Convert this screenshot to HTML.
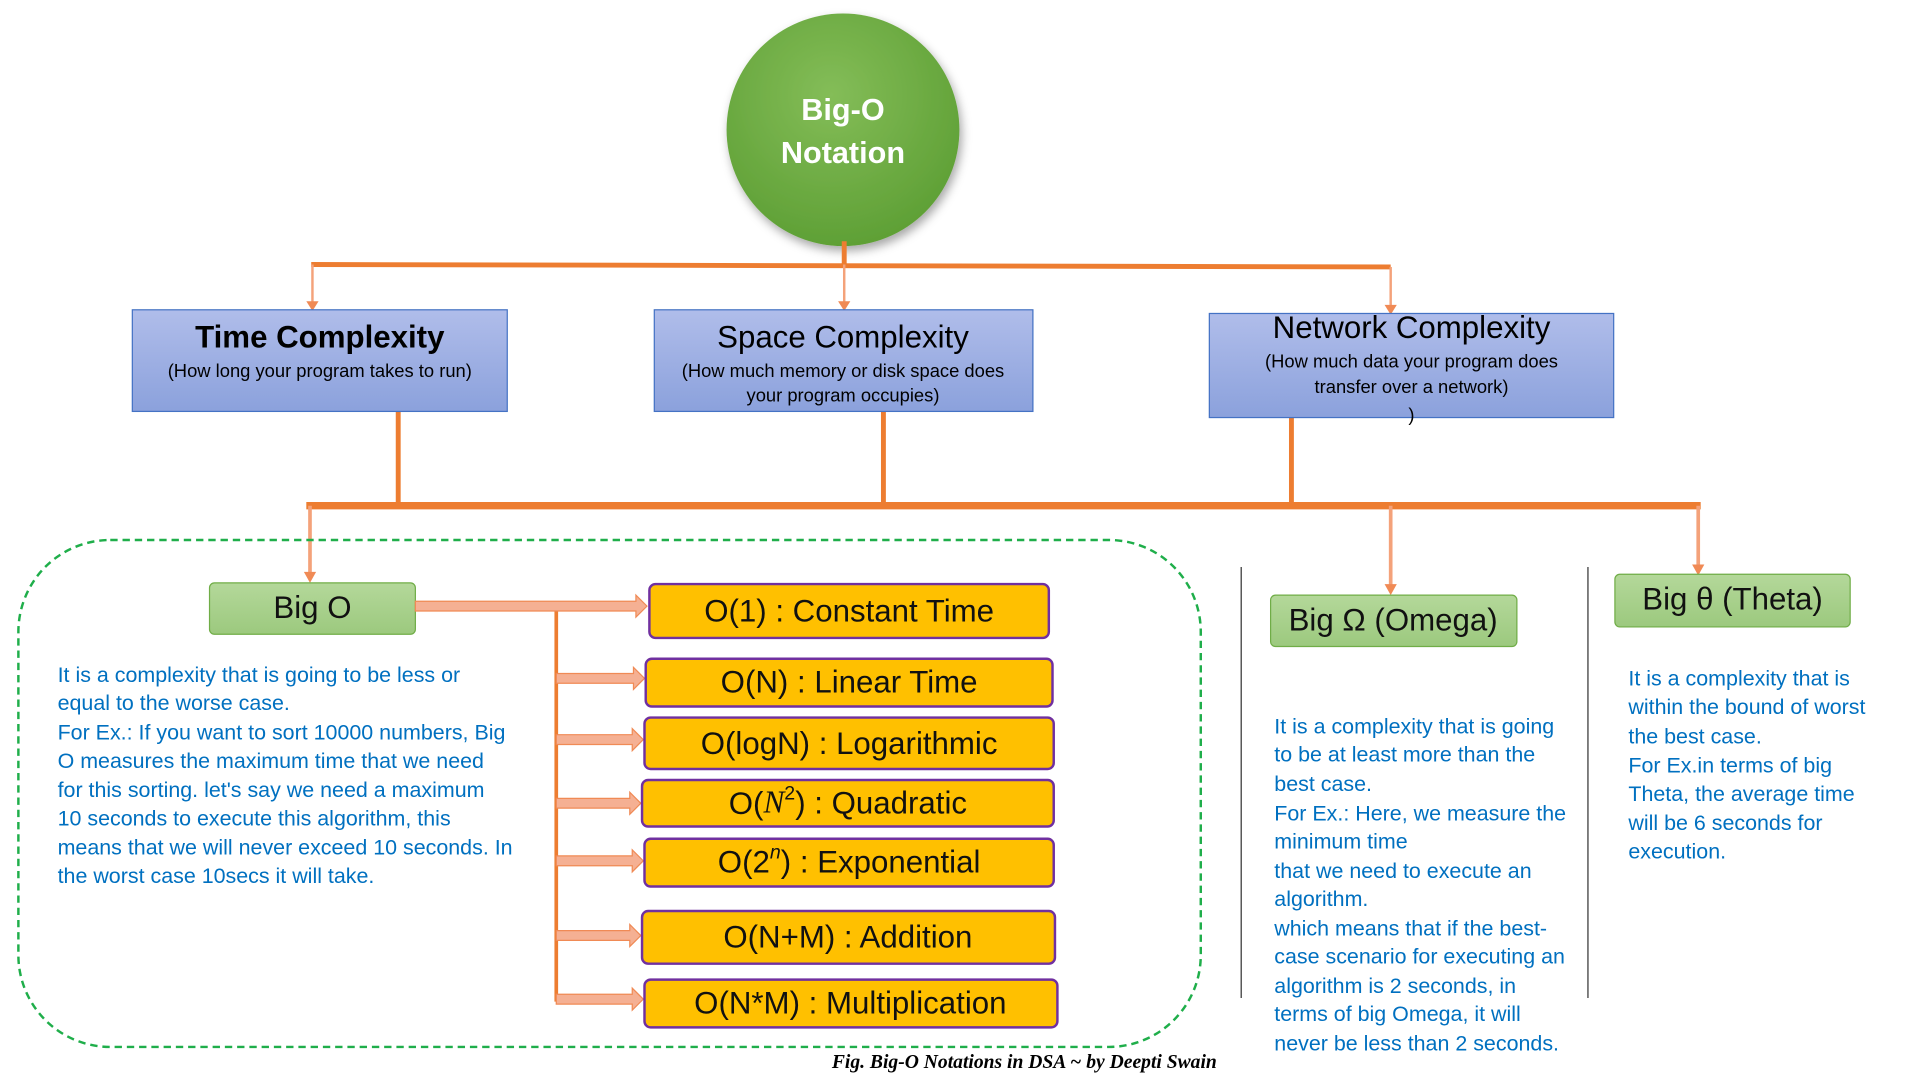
<!DOCTYPE html>
<html><head><meta charset="utf-8"><style>
html,body{margin:0;padding:0;background:#fff;width:1920px;height:1080px;overflow:hidden}
svg{display:block}
text{font-family:"Liberation Sans",sans-serif}
.b{fill:#0070c0;font-size:17.5px}
.y{font-size:25.5px;fill:#111;text-anchor:middle;dominant-baseline:middle}
</style></head><body>
<svg width="1920" height="1080" viewBox="0 0 1567 882" preserveAspectRatio="none" xmlns="http://www.w3.org/2000/svg">
<defs>
<radialGradient id="g" cx="45%" cy="35%" r="70%"><stop offset="0" stop-color="#84bd58"/><stop offset="1" stop-color="#5c9e33"/></radialGradient>
<linearGradient id="bl" x1="0" y1="0" x2="0" y2="1"><stop offset="0" stop-color="#b0bdea"/><stop offset="1" stop-color="#8ba1dc"/></linearGradient>
<linearGradient id="gr" x1="0" y1="0" x2="0" y2="1"><stop offset="0" stop-color="#b4d89a"/><stop offset="1" stop-color="#9cc97e"/></linearGradient>
<filter id="sh"><feDropShadow dx="2" dy="4" stdDeviation="4" flood-opacity="0.35"/></filter>
</defs>
<circle cx="688" cy="106" r="95" fill="url(#g)" filter="url(#sh)"/>
<text x="688" y="98" fill="#fff" font-size="25" font-weight="bold" text-anchor="middle">Big-O</text>
<text x="688" y="133" fill="#fff" font-size="25" font-weight="bold" text-anchor="middle">Notation</text>
<g stroke="#ed7d31" fill="none">
<path d="M689 197 V216 M254 216 L1135 218" stroke-width="4"/>
<path d="M255 216 V247 M689 216 V247 M1135 218 V250" stroke-width="2" stroke="#f4a27a"/>
<path d="M325 336 V413 M721 336 V413 M1054 341 V413" stroke-width="4"/>
<path d="M250 413 H1388" stroke-width="6"/>
<path d="M253 413 V468 M1135 413 V478 M1386 413 V462" stroke-width="3" stroke="#f4a27a"/>
<path d="M454 491 V818" stroke-width="3"/>
</g>
<g fill="#f08a55">
<path d="M250 246 L255 254 L260 246 Z M684 246 L689 254 L694 246 Z M1130 249 L1135 257 L1140 249 Z"/>
<path d="M248 467 L253 476 L258 467 Z M1130 477 L1135 486 L1140 477 Z M1381 461 L1386 470 L1391 461 Z"/>
</g>
<rect x="108" y="253" width="306" height="83" fill="url(#bl)" stroke="#4472c4"/>
<rect x="534" y="253" width="309" height="83" fill="url(#bl)" stroke="#4472c4"/>
<rect x="987" y="256" width="330" height="85" fill="url(#bl)" stroke="#4472c4"/>
<text x="261" y="284" font-size="25.5" font-weight="bold" text-anchor="middle">Time Complexity</text>
<text x="261" y="308" font-size="15" text-anchor="middle">(How long your program takes to run)</text>
<text x="688" y="284" font-size="25.5" text-anchor="middle">Space Complexity</text>
<text x="688" y="308" font-size="15" text-anchor="middle">(How much memory or disk space does</text>
<text x="688" y="328" font-size="15" text-anchor="middle">your program occupies)</text>
<text x="1152" y="276" font-size="25.5" text-anchor="middle">Network Complexity</text>
<text x="1152" y="300" font-size="15" text-anchor="middle">(How much data your program does</text>
<text x="1152" y="321" font-size="15" text-anchor="middle">transfer over a network)</text>
<text x="1152" y="344" font-size="15" text-anchor="middle">)</text>
<rect x="15" y="441" width="965" height="414" rx="75" fill="none" stroke="#1fae4a" stroke-width="2" stroke-dasharray="6,4"/>
<rect x="171" y="476" width="168" height="42" rx="4" fill="url(#gr)" stroke="#70ad47"/>
<text x="255" y="498" class="y" font-size="24">Big O</text>
<rect x="1037" y="486" width="201" height="42" rx="4" fill="url(#gr)" stroke="#70ad47"/>
<text x="1137" y="508" class="y" font-size="24">Big Ω (Omega)</text>
<rect x="1318" y="469" width="192" height="43" rx="4" fill="url(#gr)" stroke="#70ad47"/>
<text x="1414" y="491" class="y" font-size="24">Big θ (Theta)</text>
<g fill="#f5b093" stroke="#f08a55" stroke-width="1">
<path d="M339 491 H519 V486 L528 495 L519 504 V499 H339 Z"/>
<path d="M454 550 H517 V545 L526 554 L517 563 V558 H454 Z"/>
<path d="M454 600 H516 V595 L525 604 L516 613 V608 H454 Z"/>
<path d="M454 652 H514 V647 L523 656 L514 665 V660 H454 Z"/>
<path d="M454 699 H516 V694 L525 703 L516 712 V707 H454 Z"/>
<path d="M454 760 H514 V755 L523 764 L514 773 V768 H454 Z"/>
<path d="M454 812 H516 V807 L525 816 L516 825 V820 H454 Z"/>
</g>
<g fill="#ffc000" stroke="#7030a0" stroke-width="2">
<rect x="530" y="477" width="326" height="44" rx="5"/>
<rect x="527" y="538" width="332" height="39" rx="5"/>
<rect x="526" y="586" width="334" height="42" rx="5"/>
<rect x="524" y="637" width="336" height="38" rx="5"/>
<rect x="526" y="685" width="334" height="39" rx="5"/>
<rect x="524" y="744" width="337" height="43" rx="5"/>
<rect x="526" y="800" width="337" height="39" rx="5"/>
</g>
<text x="693" y="501" class="y">O(1) : Constant Time</text>
<text x="693" y="559" class="y">O(N) :  Linear Time</text>
<text x="693" y="609" class="y">O(logN) : Logarithmic</text>
<text x="692" y="658" class="y">O(<tspan font-style="italic" font-family="Liberation Serif">N</tspan><tspan font-size="16" dy="-9">2</tspan><tspan dy="9">) : Quadratic</tspan></text>
<text x="693" y="706" class="y">O(2<tspan font-size="16" dy="-9" font-style="italic">n</tspan><tspan dy="9">) : Exponential</tspan></text>
<text x="692" y="767" class="y">O(N+M) :  Addition</text>
<text x="694" y="821" class="y">O(N*M) : Multiplication</text>
<text x="47" y="557" class="b">It is a complexity that is going to be less or</text>
<text x="47" y="580" class="b">equal to the worse case.</text>
<text x="47" y="604" class="b">For Ex.:  If you want to sort 10000 numbers, Big</text>
<text x="47" y="627" class="b">O measures the maximum time that we need</text>
<text x="47" y="651" class="b">for this sorting. let's say we need a maximum</text>
<text x="47" y="674" class="b">10 seconds to execute this algorithm, this</text>
<text x="47" y="698" class="b">means that we will never exceed 10 seconds. In</text>
<text x="47" y="721" class="b">the worst case 10secs it will take.</text>
<path d="M1013 463 V815 M1296 463 V815" stroke="#333" stroke-width="1"/>
<text x="1040" y="599" class="b">It is a complexity that is going</text>
<text x="1040" y="622" class="b">to be at least more than the</text>
<text x="1040" y="646" class="b">best case.</text>
<text x="1040" y="670" class="b">For Ex.: Here, we measure the</text>
<text x="1040" y="693" class="b">minimum time</text>
<text x="1040" y="717" class="b">that we need to execute an</text>
<text x="1040" y="740" class="b">algorithm.</text>
<text x="1040" y="764" class="b">which means that if the best-</text>
<text x="1040" y="787" class="b">case scenario for executing an</text>
<text x="1040" y="811" class="b">algorithm is 2 seconds, in</text>
<text x="1040" y="834" class="b">terms of big Omega, it will</text>
<text x="1040" y="858" class="b">never be less than 2 seconds.</text>
<text x="1329" y="560" class="b">It is a complexity that is</text>
<text x="1329" y="583" class="b">within the bound of worst</text>
<text x="1329" y="607" class="b">the best case.</text>
<text x="1329" y="631" class="b">For Ex.in terms of big</text>
<text x="1329" y="654" class="b">Theta, the average time</text>
<text x="1329" y="678" class="b">will be 6 seconds for</text>
<text x="1329" y="701" class="b">execution.</text>
<text x="836" y="872" font-style="italic" font-weight="bold" font-size="16" text-anchor="middle" style="font-family:'Liberation Serif',serif">Fig. Big-O Notations in DSA ~ by Deepti Swain</text>
</svg>
</body></html>
